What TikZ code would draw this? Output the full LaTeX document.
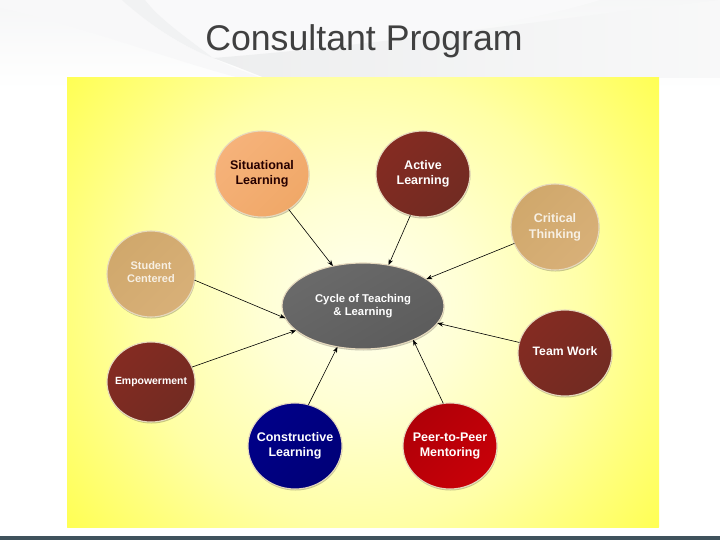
\documentclass[tikz,border=0pt]{standalone}
\usepackage{fontspec}
\setmainfont{Liberation Sans}
\usetikzlibrary{shapes.geometric,arrows.meta,shadows}
\definecolor{yc0}{HTML}{FFFFF0}
\definecolor{yc1}{HTML}{FFFFD4}
\definecolor{yc2}{HTML}{FFFFA6}
\definecolor{yc3}{HTML}{FFFF7C}
\definecolor{yc4}{HTML}{FFFF54}
\pgfdeclareradialshading{yelglow}{\pgfpoint{0bp}{0bp}}{%
  color(0bp)=(yc0); color(7bp)=(yc1); color(15bp)=(yc2); color(20bp)=(yc3); color(25bp)=(yc4); color(50bp)=(yc4)}
\definecolor{rim}{HTML}{E6D9BE}
\definecolor{brownA}{HTML}{842B22}
\definecolor{brownB}{HTML}{722B22}
\definecolor{orA}{HTML}{F6B27A}
\definecolor{orB}{HTML}{F0A868}
\definecolor{tanA}{HTML}{D8B078}
\definecolor{tanB}{HTML}{D0A86C}
\definecolor{blueA}{HTML}{000088}
\definecolor{blueB}{HTML}{000078}
\definecolor{redA}{HTML}{C80008}
\definecolor{redB}{HTML}{B00008}
\definecolor{greyA}{HTML}{6A6A6A}
\definecolor{greyB}{HTML}{5C5C5C}
\definecolor{barcol}{HTML}{3F525C}
\definecolor{titlecol}{HTML}{404040}
\definecolor{swoosh}{HTML}{EBECED}
\definecolor{paletxt}{HTML}{F7F0E4}
\newcommand{\twolines}[3]{\raisebox{#1}[0pt][0pt]{\vbox{\halign{\hfil##\hfil\cr #2\cr #3\cr}}}}
\tikzset{
  bubble/.style={ellipse,draw=rim,line width=1.1pt,inner sep=-18pt,outer sep=0pt,
    font=\bfseries\fontsize{12.5}{15.6}\selectfont,
    drop shadow={shadow xshift=0.5pt,shadow yshift=-1.5pt,opacity=0.22,fill=black}},
  bb/.style={minimum width=94pt,minimum height=86pt},
  bs/.style={minimum width=88pt,minimum height=86pt},
  brown/.style={shade,left color=brownA,right color=brownB,shading angle=45,text=white},
  tan/.style={shade,left color=tanB,right color=tanA,shading angle=45,text=paletxt},
  link/.style={draw=black,line width=0.6pt,-{Stealth[length=6pt,width=4.5pt]}},
}
\begin{document}
\begin{tikzpicture}[x=1pt,y=-1pt]
\useasboundingbox (0,0) rectangle (720,540);
\fill[white] (0,0) rectangle (720,540);
% slide background swooshes
\shade[top color=swoosh!45!white,bottom color=white] (0,0) rectangle (720,90);
\fill[swoosh!35!white] (0,0) -- (122,0) .. controls (160,35) and (210,60) .. (262,78) -- (240,78) .. controls (170,60) and (80,25) .. (0,8) -- cycle;
\fill[white!70!swoosh] (122,0) .. controls (160,35) and (190,50) .. (213,58) .. controls (380,45) and (520,25) .. (600,0) -- cycle;
\fill[swoosh!70!white] (122,0) .. controls (150,25) and (180,45) .. (213,58) .. controls (190,40) and (160,20) .. (145,0) -- cycle;
\shade[left color=swoosh!90!white,right color=swoosh!35!white] (213,58) .. controls (380,45) and (540,20) .. (720,0) -- (720,78) -- (265,78) .. controls (245,70) and (230,64) .. (213,58) -- cycle;
\fill[white] (0,90) rectangle (720,100);
% yellow panel
\begin{scope}
\clip (67,78) rectangle (659,527);
\fill[yc4] (67,78) rectangle (659,527);
\shade[shading=yelglow] (363,302) circle[radius=372];
\end{scope}
\fill[barcol] (0,536) rectangle (720,540);
\node[text=titlecol,font=\fontsize{35.7}{40}\selectfont] (title) at (364,41.5) {Consultant Program};
% centre
\node[bubble,shade,left color=greyA,right color=greyB,shading angle=30,text=white,
  minimum width=162pt,minimum height=86pt,font=\bfseries\fontsize{11.3}{13}\selectfont] (hub) at (363,306) {\twolines{-9pt}{Cycle of Teaching}{\& Learning}};
% satellites
\node[bubble,bb,shade,left color=orA,right color=orB,shading angle=45,text=black!85!red] (sit) at (262,174) {\twolines{-11pt}{Situational}{Learning}};
\node[bubble,bb,brown] (act) at (423,174) {\twolines{-11pt}{Active}{Learning}};
\node[bubble,bs,tan] (cri) at (555,227) {\twolines{-11.5pt}{Critical}{Thinking}};
\node[bubble,bs,tan,font=\bfseries\fontsize{11}{13}\selectfont] (stu) at (151,274) {\twolines{-8pt}{Student}{Centered}};
\node[bubble,bb,brown,font=\bfseries\fontsize{12.2}{14}\selectfont] (team) at (565,353) {\raisebox{-2.5pt}[0pt][0pt]{Team Work}};
\node[bubble,bs,brown,minimum height=80pt,font=\bfseries\fontsize{10.45}{12}\selectfont] (emp) at (151,382) {\raisebox{-2.8pt}[0pt][0pt]{Empowerment}};
\node[bubble,bb,shade,left color=blueA,right color=blueB,shading angle=45,text=white,font=\bfseries\fontsize{12.5}{15.2}\selectfont] (con) at (295,446) {\twolines{-10.2pt}{Constructive}{Learning}};
\node[bubble,bb,shade,left color=redB,right color=redA,shading angle=45,text=white,font=\bfseries\fontsize{12.5}{15.2}\selectfont] (pee) at (450,446) {\twolines{-10.2pt}{Peer-to-Peer}{Mentoring}};
% connectors
\draw[link] (sit.-53) -- (hub.127);
\draw[link] (act.-107) -- (hub.58);
\draw[link] (cri.202) -- (hub.23);
\draw[link] (team.167) -- (hub.-13);
\draw[link] (pee.99) -- (hub.-34);
\draw[link] (con.72) -- (hub.238);
\draw[link] (emp.20) -- (hub.200);
\draw[link] (stu.-8) -- (hub.189);
\end{tikzpicture}
\end{document}
